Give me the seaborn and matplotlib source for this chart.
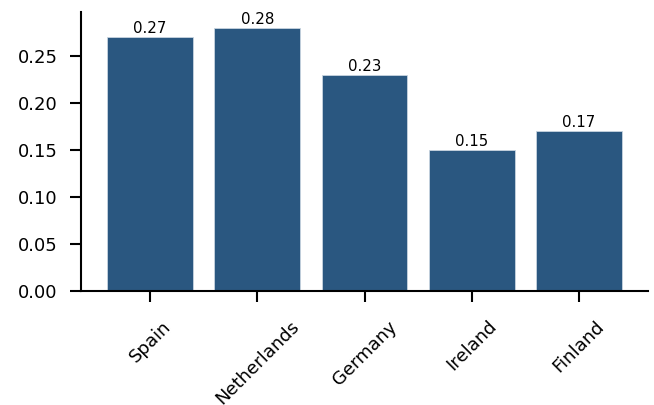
import matplotlib
matplotlib.use("Agg")
import matplotlib.pyplot as plt
import seaborn as sns
import pandas as pd

countries = ["Spain", "Netherlands", "Germany", "Ireland", "Finland"]
values = [0.27, 0.28, 0.23, 0.15, 0.17]
labels = ["0.27", "0.28", "0.23", "0.15", "0.17"]

sns.set_style("ticks")
plt.rcParams["font.family"] = ["DejaVu Sans"]
plt.rcParams["text.color"] = "black"
plt.rcParams["xtick.color"] = "black"
plt.rcParams["ytick.color"] = "black"

df = pd.DataFrame({"country": countries, "value": values})

fig = plt.figure(figsize=(6.54, 4.05), dpi=100)
ax = fig.add_axes([81/654, 1 - 291/405, (648-81)/654, (291-12)/405])
sns.barplot(data=df, x="country", y="value", color="#2a5780", saturation=1,
            width=0.8, edgecolor="#c8d4e0", linewidth=0.6, ax=ax)
for i, (v, t) in enumerate(zip(values, labels)):
    ax.text(i, v + 0.001, t, ha="center", va="bottom", fontsize=10.8, color="black")
ax.set_xlim(-0.645, 4.645)
ax.set_ylim(0, 0.297)
ax.set_yticks([0, 0.05, 0.10, 0.15, 0.20, 0.25])
ax.set_yticklabels(["0.00", "0.05", "0.10", "0.15", "0.20", "0.25"])
ax.set_xlabel("")
ax.set_ylabel("")
sns.despine(ax=ax)
for s in ["left", "bottom"]:
    ax.spines[s].set_linewidth(1.5)
    ax.spines[s].set_color("black")
ax.tick_params(axis="both", length=8, width=1.5, labelsize=13, color="black", labelcolor="black")
ax.tick_params(axis="y", pad=9)
ax.tick_params(axis="x", pad=11)
plt.setp(ax.get_xticklabels(), rotation=45, ha="center", rotation_mode="default")
fig.savefig("out.png", dpi=100)
